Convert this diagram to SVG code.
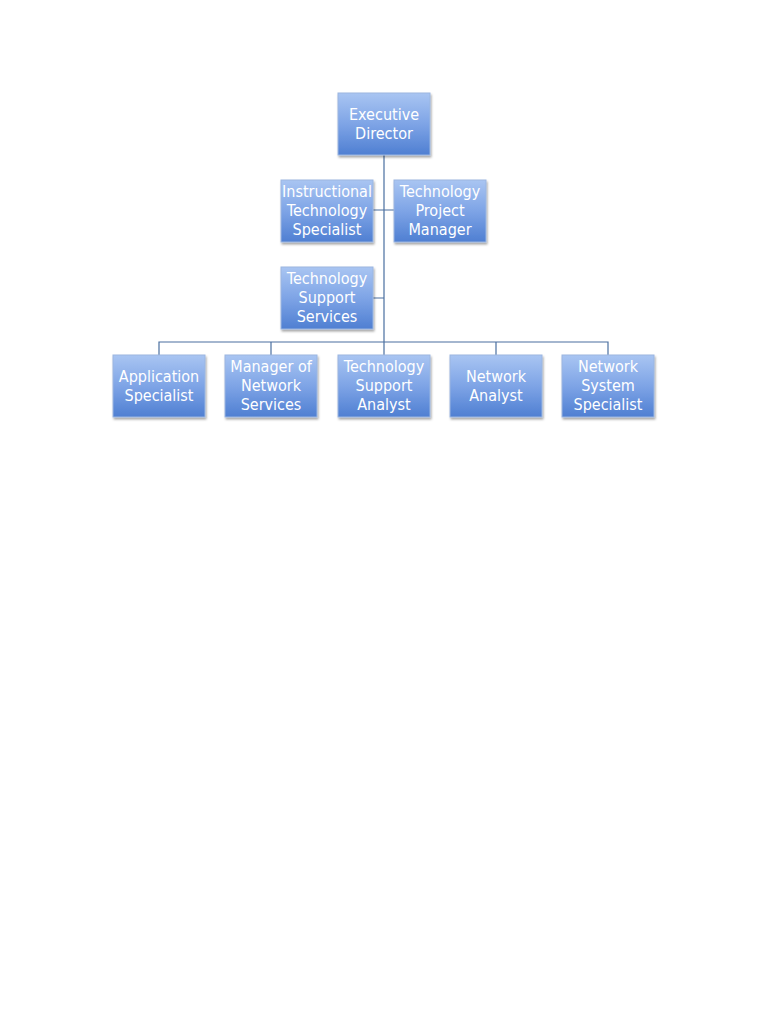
<svg xmlns="http://www.w3.org/2000/svg" width="768" height="1024" viewBox="0 0 768 1024">
<defs>
<linearGradient id="g" x1="0" y1="0" x2="0" y2="1">
<stop offset="0" stop-color="#a9c5f2"/><stop offset="0.5" stop-color="#7ea4e6"/><stop offset="1" stop-color="#4f7fd2"/>
</linearGradient>
<filter id="s" x="-10%" y="-10%" width="130%" height="130%"><feDropShadow dx="1" dy="2" stdDeviation="1" flood-color="#000" flood-opacity="0.35"/></filter>
</defs>
<style>
rect{fill:url(#g);stroke:#9bb6e0;stroke-width:1;filter:url(#s)}
text{font-family:"DejaVu Sans Condensed","DejaVu Sans",sans-serif;font-size:16px;fill:#fff;text-anchor:middle}
.c{stroke:#4a6fa0;stroke-width:1.2;fill:none}
</style>
<rect width="768" height="1024" fill="#fff" style="fill:#fff;stroke:none;filter:none"/>
<g id="connectors">
<path class="c" d="M384 155V355M373 210H394M373 298H384M159 355V342H608V355M271 342V355M496 342V355"/>
</g>
<g id="n1"><rect x="338" y="93" width="92" height="62"/><text x="384" y="120">Executive</text><text x="384" y="139">Director</text></g>
<g id="n2"><rect x="281" y="180" width="92" height="62"/><text x="327" y="197">Instructional</text><text x="327" y="216">Technology</text><text x="327" y="235">Specialist</text></g>
<g id="n3"><rect x="394" y="180" width="92" height="62"/><text x="440" y="197">Technology</text><text x="440" y="216">Project</text><text x="440" y="235">Manager</text></g>
<g id="n4"><rect x="281" y="267" width="92" height="62"/><text x="327" y="284">Technology</text><text x="327" y="303">Support</text><text x="327" y="322">Services</text></g>
<g id="n5"><rect x="113" y="355" width="92" height="62"/><text x="159" y="382">Application</text><text x="159" y="401">Specialist</text></g>
<g id="n6"><rect x="225" y="355" width="92" height="62"/><text x="271" y="372">Manager of</text><text x="271" y="391">Network</text><text x="271" y="410">Services</text></g>
<g id="n7"><rect x="338" y="355" width="92" height="62"/><text x="384" y="372">Technology</text><text x="384" y="391">Support</text><text x="384" y="410">Analyst</text></g>
<g id="n8"><rect x="450" y="355" width="92" height="62"/><text x="496" y="382">Network</text><text x="496" y="401">Analyst</text></g>
<g id="n9"><rect x="562" y="355" width="92" height="62"/><text x="608" y="372">Network</text><text x="608" y="391">System</text><text x="608" y="410">Specialist</text></g>
</svg>
